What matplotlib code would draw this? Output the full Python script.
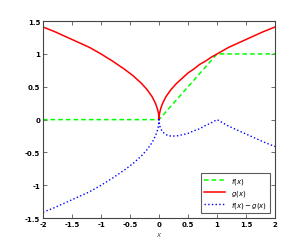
import matplotlib
matplotlib.use('Agg')
import matplotlib.pyplot as plt

# values
xs = [-2, -1.8, -1.6, -1.4, -1.2, -1, -0.8, -0.6, -0.45, -0.3, -0.2, -0.12, -0.06,
      -0.03, -0.01, -0.003, 0,
      0.003, 0.01, 0.03, 0.06, 0.12, 0.2, 0.25, 0.3, 0.4, 0.5, 0.6, 0.7, 0.8, 0.9, 1,
      1.2, 1.4, 1.6, 1.8, 2]
g = [1.41, 1.34, 1.26, 1.18, 1.10, 1.0, 0.89, 0.77, 0.67, 0.55, 0.45, 0.35, 0.245,
     0.17, 0.1, 0.055, 0.0,
     0.055, 0.1, 0.17, 0.245, 0.35, 0.45, 0.5, 0.55, 0.63, 0.71, 0.77, 0.84, 0.89, 0.95, 1.0,
     1.10, 1.18, 1.26, 1.34, 1.41]
fx = [-2, 0, 1, 2]
f = [0, 0, 1, 1]
fg = [-1.41, -1.34, -1.26, -1.18, -1.10, -1.0, -0.89, -0.77, -0.67, -0.55, -0.45, -0.35, -0.245,
      -0.17, -0.1, -0.055, 0.0,
      -0.052, -0.09, -0.14, -0.185, -0.23, -0.25, -0.25, -0.25, -0.23, -0.21, -0.17, -0.14,
      -0.09, -0.05, 0.0,
      -0.10, -0.18, -0.26, -0.34, -0.41]

xticks = [-2, -1.5, -1, -0.5, 0, 0.5, 1, 1.5, 2]
xticklabels = ['-2', '-1.5', '-1', '-0.5', '0', '0.5', '1', '1.5', '2']
yticks = [-1.5, -1, -0.5, 0, 0.5, 1, 1.5]
yticklabels = ['-1.5', '-1', '-0.5', '0', '0.5', '1', '1.5']

fig = plt.figure(figsize=(3.07, 2.51), dpi=100)
ax = fig.add_axes([0.140, 0.127, 0.756, 0.785])

ax.plot(fx, f, color='#00ff00', linestyle=(0, (3, 2)), linewidth=1.1, label='$f(x)$')
ax.plot(xs, g, color='red', linewidth=1.1, label='$g(x)$')
ax.plot(xs, fg, color='blue', linestyle=':', linewidth=1.0, label='$f(x)-g(x)$')

ax.set_xlim(-2, 2)
ax.set_ylim(-1.5, 1.5)
ax.set_xticks(xticks)
ax.set_xticklabels(xticklabels, fontsize=5, fontweight='bold')
ax.set_yticks(yticks)
ax.set_yticklabels(yticklabels, fontsize=5, fontweight='bold')
ax.tick_params(direction='in', top=True, right=True, length=3, width=0.6, color='#555555', pad=2)
for s in ax.spines.values():
    s.set_color('#444444')
    s.set_linewidth(0.8)
ax.set_xlabel('$x$', fontsize=5, color='#555555', labelpad=2)

leg = ax.legend(loc='lower right', fontsize=5, frameon=True, fancybox=False,
                edgecolor='#333333', handlelength=3.0, borderpad=0.4, labelspacing=0.3,
                borderaxespad=0.8)
leg.get_frame().set_linewidth(0.8)

fig.savefig('out.png', dpi=100)
